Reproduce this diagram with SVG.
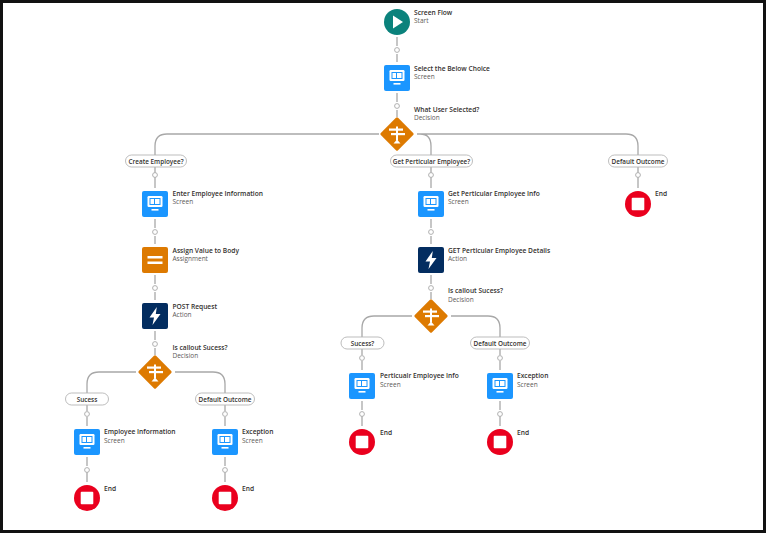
<svg xmlns="http://www.w3.org/2000/svg" width="768" height="535" viewBox="0 0 768 535">
<style>
.t{font:600 6.65px "Open Sans",sans-serif;fill:#33302e}
.s{font:400 6.5px "Open Sans",sans-serif;fill:#5c5957}
.p{font:600 6.4px "Open Sans",sans-serif;fill:#33302e;text-anchor:middle}
.c{fill:none;stroke:#a8a8a8;stroke-width:1.3}
.o{fill:#fff;stroke:#a8a8a8;stroke-width:.9}
.pill{fill:#fff;stroke:#b5b5b5;stroke-width:.9}
</style>
<defs>
<g id="screen"><rect x="-13" y="-13" width="26" height="26" rx="2" fill="#1b96ff"/><rect x="-7.500" y="-8" width="15" height="11" rx="1.200" fill="#fff"/><rect x="-5.500" y="-6" width="11" height="7" fill="#1b96ff"/><rect x="-4.500" y="-5" width="3.500" height="5" fill="#fff"/><rect x="0" y="-5" width="4.500" height="5" fill="#fff"/><rect x="-3.500" y="5" width="7" height="1.600" fill="#fff"/></g>
<g id="decision"><rect x="-12.200" y="-12.200" width="24.400" height="24.400" rx="1.500" transform="rotate(45)" fill="#dd7a01"/><rect x="-8" y="-5.500" width="14" height="2.200" fill="#fff"/><rect x="-6" y="-1" width="14" height="2.200" fill="#fff"/><rect x="-1" y="-7.500" width="2" height="14" fill="#fff"/><path d="M-3.500 9.500L0 5.500L3.500 9.500Z" fill="#fff"/></g>
<g id="end"><circle r="13" fill="#ea001e"/><rect x="-6.300" y="-6.300" width="12.600" height="12.600" rx="1" fill="#fff"/></g>
<g id="action"><rect x="-13" y="-13" width="26" height="26" rx="2" fill="#032d60"/><path d="M1.800-9L-5.500 1.500H-1L-2.500 9L5.500-2H.8Z" fill="#fff"/></g>
<g id="assign"><rect x="-13" y="-13" width="26" height="26" rx="2" fill="#dd7a01"/><rect x="-7.500" y="-4" width="15" height="2.500" fill="#fff"/><rect x="-7.500" y="1.500" width="15" height="2.500" fill="#fff"/></g>
</defs>
<rect width="768" height="535" fill="#fff"/>
<rect x="1.500" y="1.500" width="763" height="530" fill="none" stroke="#111" stroke-width="3"/>
<g id="connectors">
<path class="c" d="M397 37V46M397 54V62M397 93V102M397 110V117M379 134H167Q155 134 155 146V155M417 134H420Q431 134 431 146V155M417 134H626Q638 134 638 146V155"/>
<path class="c" d="M155 167V173M155 177V188M155 219V228M155 236V244M155 275V284M155 292V300M155 331V340M155 348V355M136 372H99Q87 372 87 384V393M175 372H213Q225 372 225 384V393M87 405V411M87 417V426M225 405V411M225 417V426M87 457V466M87 472V482M225 457V466M225 472V482"/>
<path class="c" d="M431 167V173M431 177V188M431 219V228M431 236V244M431 275V284M431 292V299M412 316H374Q362 316 362 328V337M451 316H488Q500 316 500 328V337M362 349V355M362 361V370M500 349V355M500 361V370M362 401V410M362 416V426M500 401V410M500 416V426M638 167V173M638 177V188"/>
<g id="dots">
<circle class="o" cx="397" cy="50" r="2.400"/><circle class="o" cx="397" cy="106" r="2.400"/>
<circle class="o" cx="155" cy="175" r="2.400"/><circle class="o" cx="155" cy="232" r="2.400"/><circle class="o" cx="155" cy="288" r="2.400"/><circle class="o" cx="155" cy="344" r="2.400"/>
<circle class="o" cx="87" cy="414" r="2.400"/><circle class="o" cx="225" cy="414" r="2.400"/><circle class="o" cx="87" cy="470" r="2.400"/><circle class="o" cx="225" cy="470" r="2.400"/>
<circle class="o" cx="431" cy="175" r="2.400"/><circle class="o" cx="431" cy="232" r="2.400"/><circle class="o" cx="431" cy="288" r="2.400"/>
<circle class="o" cx="362" cy="358" r="2.400"/><circle class="o" cx="500" cy="358" r="2.400"/><circle class="o" cx="362" cy="414" r="2.400"/><circle class="o" cx="500" cy="414" r="2.400"/>
<circle class="o" cx="638" cy="175" r="2.400"/>
</g>
</g>
<g id="start"><circle cx="397" cy="22" r="13" fill="#0b827c"/><path d="M393 15.500L403 22L393 28.500Z" fill="#fff"/><text class="t" x="414" y="15">Screen Flow</text><text class="s" x="414" y="23">Start</text></g>
<g id="select-choice"><use href="#screen" x="397" y="78"/><text class="t" x="414" y="71">Select the Below Choice</text><text class="s" x="414" y="79">Screen</text></g>
<g id="what-user"><use href="#decision" x="397" y="134"/><text class="t" x="414" y="112">What User Selected?</text><text class="s" x="414" y="120">Decision</text></g>
<g id="pill-create"><rect class="pill" x="125.500" y="155" width="61" height="12" rx="6"/><text class="p" x="156" y="163.500">Create Employee?</text></g>
<g id="pill-get"><rect class="pill" x="390.500" y="155" width="82" height="12" rx="6"/><text class="p" x="431.500" y="163.500">Get Perticular Employee?</text></g>
<g id="pill-default"><rect class="pill" x="608.500" y="155" width="59" height="12" rx="6"/><text class="p" x="638" y="163.500">Default Outcome</text></g>
<g id="enter-info"><use href="#screen" x="155" y="204"/><text class="t" x="172.500" y="196">Enter Employee Information</text><text class="s" x="172.500" y="204">Screen</text></g>
<g id="assign-body"><use href="#assign" x="155" y="260"/><text class="t" x="172.500" y="252.500">Assign Value to Body</text><text class="s" x="172.500" y="261">Assignment</text></g>
<g id="post"><use href="#action" x="155" y="316"/><text class="t" x="172.500" y="309">POST Request</text><text class="s" x="172.500" y="317">Action</text></g>
<g id="callout-1"><use href="#decision" x="155" y="372"/><text class="t" x="172.500" y="350">Is callout Sucess?</text><text class="s" x="172.500" y="358">Decision</text></g>
<g id="pill-sucess"><rect class="pill" x="65.500" y="393" width="43" height="12" rx="6"/><text class="p" x="87" y="402">Sucess</text></g>
<g id="pill-default-1"><rect class="pill" x="195.500" y="393" width="59" height="12" rx="6"/><text class="p" x="225" y="402">Default Outcome</text></g>
<g id="emp-info"><use href="#screen" x="87" y="442"/><text class="t" x="104" y="434">Employee Information</text><text class="s" x="104" y="442.500">Screen</text></g>
<g id="exception-1"><use href="#screen" x="225" y="442"/><text class="t" x="242" y="434">Exception</text><text class="s" x="242" y="442.500">Screen</text></g>
<g id="end-1"><use href="#end" x="87" y="498"/><text class="t" x="104" y="490.500">End</text></g>
<g id="end-2"><use href="#end" x="225" y="498"/><text class="t" x="242" y="490.500">End</text></g>
<g id="get-info"><use href="#screen" x="431" y="204"/><text class="t" x="448" y="196">Get Perticular Employee Info</text><text class="s" x="448" y="204">Screen</text></g>
<g id="get-details"><use href="#action" x="431" y="260"/><text class="t" x="448" y="252.500">GET Perticular Employee Details</text><text class="s" x="448" y="261">Action</text></g>
<g id="callout-2"><use href="#decision" x="431" y="316"/><text class="t" x="448" y="293">Is callout Sucess?</text><text class="s" x="448" y="301.500">Decision</text></g>
<g id="pill-sucess-2"><rect class="pill" x="341" y="337" width="43" height="12" rx="6"/><text class="p" x="362.500" y="346">Sucess?</text></g>
<g id="pill-default-2"><rect class="pill" x="470.500" y="337" width="59" height="12" rx="6"/><text class="p" x="500" y="346">Default Outcome</text></g>
<g id="perticualr"><use href="#screen" x="362" y="386"/><text class="t" x="380" y="378">Perticualr Employee Info</text><text class="s" x="380" y="386.500">Screen</text></g>
<g id="exception-2"><use href="#screen" x="500" y="386"/><text class="t" x="517" y="378">Exception</text><text class="s" x="517" y="386.500">Screen</text></g>
<g id="end-3"><use href="#end" x="362" y="442"/><text class="t" x="380" y="434.500">End</text></g>
<g id="end-4"><use href="#end" x="500" y="442"/><text class="t" x="517" y="434.500">End</text></g>
<g id="end-5"><use href="#end" x="638" y="204"/><text class="t" x="655" y="196">End</text></g>
</svg>
